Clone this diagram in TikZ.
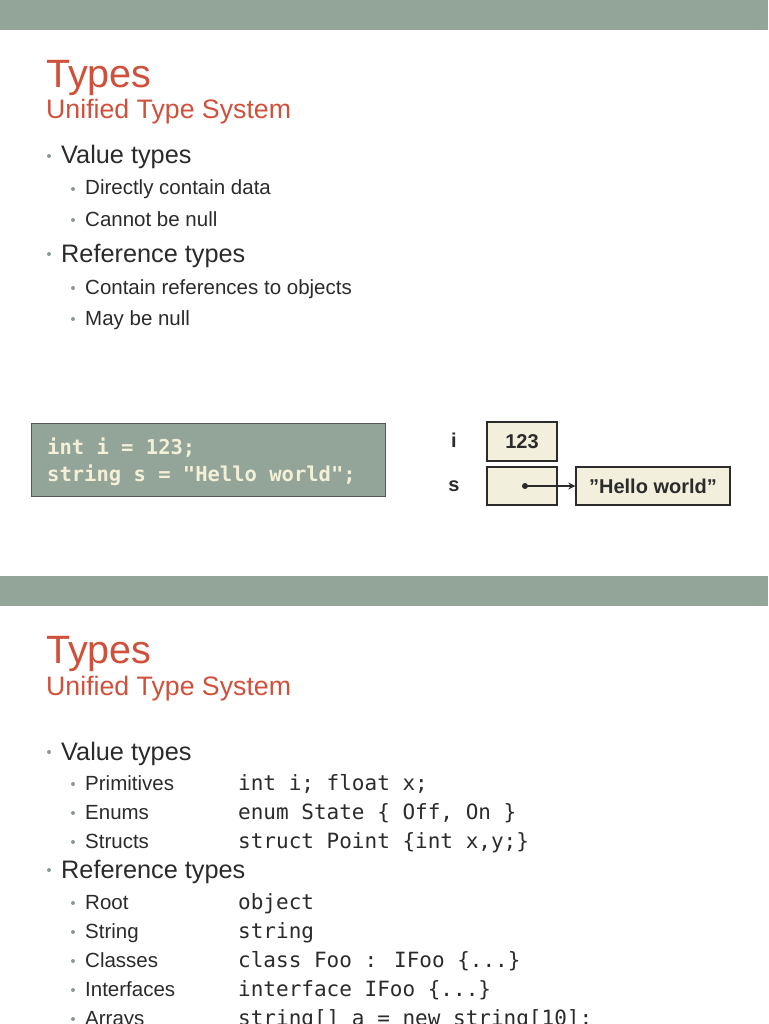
\documentclass[tikz,border=0pt]{standalone}
\usepackage{fontspec}
\usetikzlibrary{arrows.meta}
\setmainfont{Liberation Sans}
\newfontfamily\codefont{DejaVu Sans Mono}
\definecolor{barc}{HTML}{93A499}
\definecolor{titc}{HTML}{D0513B}
\definecolor{txtc}{HTML}{2B2B2B}
\definecolor{dotc}{HTML}{8A9A90}
\definecolor{cream}{HTML}{F2F0DC}
\definecolor{codec}{HTML}{F4F0D8}
\tikzset{
 title/.style={anchor=base west,inner sep=0,text=titc,font=\fontsize{39.5}{42}\selectfont},
 subtitle/.style={anchor=base west,inner sep=0,text=titc,font=\fontsize{26.7}{28}\selectfont},
 lvone/.style={anchor=base west,inner sep=0,text=txtc,font=\fontsize{25.3}{27}\selectfont},
 lvtwo/.style={anchor=base west,inner sep=0,text=txtc,font=\fontsize{20.5}{22}\selectfont},
 code/.style={anchor=base west,inner sep=0,text=txtc,font=\codefont\fontsize{21}{22}\selectfont},
 mem/.style={draw=txtc,line width=1.3pt,fill=cream,inner sep=0,font=\bfseries\fontsize{20}{22}\selectfont,text=txtc},
 lab/.style={inner sep=0,font=\bfseries\fontsize{20}{22}\selectfont,text=txtc},
 bdot/.style={circle,fill=dotc,inner sep=0,minimum size=4pt}
}
\begin{document}
\begin{tikzpicture}[x=1pt,y=-1pt]
\useasboundingbox (0,0) rectangle (768,1024);
\fill[white] (0,0) rectangle (768,1024);
\fill[barc] (0,0) rectangle (768,30);
\fill[barc] (0,576) rectangle (768,606);
% slide 1
\node[title] (t1) at (46,88) {Types};
\node[subtitle] (s1) at (46,119) {Unified Type System};
\node[bdot] at (49,156) {}; \node[lvone] (a1) at (61,164) {Value types};
\node[bdot] at (73,189) {}; \node[lvtwo] (a2) at (85,195) {Directly contain data};
\node[bdot] at (73,220) {}; \node[lvtwo] (a3) at (85,226) {Cannot be null};
\node[bdot] at (49,254) {}; \node[lvone] (a4) at (61,262) {Reference types};
\node[bdot] at (73,288) {}; \node[lvtwo] (a5) at (85,294) {Contain references to objects};
\node[bdot] at (73,319) {}; \node[lvtwo] (a6) at (85,325) {May be null};
\draw[fill=barc,draw=txtc!80,line width=1pt] (31,423) rectangle (385,496);
\node[anchor=base west,inner sep=0,text=codec,font=\codefont\bfseries\fontsize{20.5}{22}\selectfont] (c1) at (47,454) {int i = 123;};
\node[anchor=base west,inner sep=0,text=codec,font=\codefont\bfseries\fontsize{20.5}{22}\selectfont] (c2) at (47,481) {string s = \char"22 Hello world\char"22;};
\node[lab] (li) at (454,440) {i};
\node[lab] (ls) at (454,486) {s};
\node[mem,minimum width=70pt,minimum height=39pt] (bi) at (522,441.5) {123};
\node[mem,minimum width=70pt,minimum height=38pt] (bs) at (522,486) {};
\node[mem,minimum width=154pt,minimum height=38pt] (bh) at (653,486) {\char"22 Hello world\char"22};
\fill[txtc] (525,486) coordinate (pd) circle (3pt);
\draw[txtc,line width=1.3pt,-{Stealth[length=7pt,width=7pt]}] (pd) -- (bh.west);
% slide 2
\node[title] (t2) at (46,663) {Types};
\node[subtitle] (s2) at (46,695) {Unified Type System};
\node[bdot] at (49,752) {}; \node[lvone] (b1) at (61,760) {Value types};
\node[bdot] at (73,784) {}; \node[lvtwo] (b2) at (85,790) {Primitives};
\node[code] at (238,790) {int i; float x;};
\node[bdot] at (73,813) {}; \node[lvtwo] (b3) at (85,819) {Enums};
\node[code] at (238,819) {enum State \{ Off, On \}};
\node[bdot] at (73,842) {}; \node[lvtwo] (b4) at (85,848) {Structs};
\node[code] at (238,848) {struct Point \{int x,y;\}};
\node[bdot] at (49,870) {}; \node[lvone] (b5) at (61,878) {Reference types};
\node[bdot] at (73,903) {}; \node[lvtwo] (b6) at (85,909) {Root};
\node[code] at (238,909) {object};
\node[bdot] at (73,932) {}; \node[lvtwo] (b7) at (85,938) {String};
\node[code] at (238,938) {string};
\node[bdot] at (73,961) {}; \node[lvtwo] (b8) at (85,967) {Classes};
\node[code] at (238,967) {class Foo : IFoo \{...\}};
\node[bdot] at (73,990) {}; \node[lvtwo] (b9) at (85,996) {Interfaces};
\node[code] at (238,996) {interface IFoo \{...\}};
\node[bdot] at (73,1019) {}; \node[lvtwo] (b10) at (85,1025) {Arrays};
\node[code] at (238,1025) {string[] a = new string[10];};
\end{tikzpicture}
\end{document}
